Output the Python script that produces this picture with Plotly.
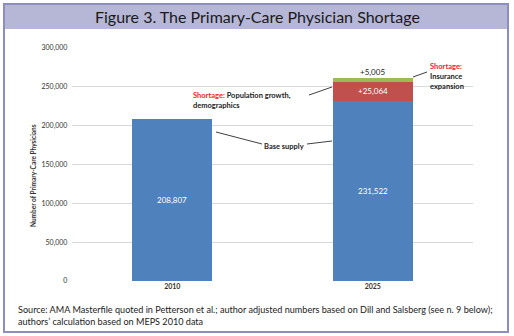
import plotly.graph_objects as go

years = ["2010", "2025"]
base_supply = [208807, 231522]
pop_growth = [0, 25064]
insurance = [0, 5005]
y_ticks = [0, 50000, 100000, 150000, 200000, 250000, 300000]

BLUE = "#4F81BD"
RED = "#C0504D"
GREEN = "#9BBB59"
FONT = "Lato, Open Sans, sans-serif"

W, H = 514, 336
PL, PR, PT, PB = 72, 473, 48, 281

xpos = list(range(len(years)))


def px(x):
    return (x - PL) / (PR - PL)


def py(y):
    return (PB - y) / (PB - PT)


fig = go.Figure()
fig.add_trace(go.Bar(x=xpos, y=base_supply, marker=dict(color=BLUE, line=dict(width=0)),
                     name="Base supply", width=0.4))
fig.add_trace(go.Bar(x=xpos, y=pop_growth, marker=dict(color=RED, line=dict(width=0)),
                     name="Population growth", width=0.4))
fig.add_trace(go.Bar(x=xpos, y=insurance, marker=dict(color=GREEN, line=dict(width=0)),
                     name="Insurance expansion", width=0.4))

annotations = []
for i in xpos:
    annotations.append(dict(x=i, y=base_supply[i] / 2, xref="x", yref="y", text=f"{base_supply[i]:,}",
                            showarrow=False, font=dict(size=8, color="white", family=FONT)))
    if pop_growth[i]:
        annotations.append(dict(x=i, y=base_supply[i] + pop_growth[i] / 2, xref="x", yref="y",
                                text=f"+{pop_growth[i]:,}", showarrow=False,
                                font=dict(size=8, color="white", family=FONT)))
    if insurance[i]:
        annotations.append(dict(x=i, y=base_supply[i] + pop_growth[i] + insurance[i], xref="x", yref="y",
                                text=f"+{insurance[i]:,}", showarrow=False, yanchor="bottom", yshift=-1,
                                font=dict(size=8, color="#222", family=FONT)))

annotations += [
    # title
    dict(x=px(257), y=py(17), xref="paper", yref="paper", text="Figure 3. The Primary-Care Physician Shortage",
         showarrow=False, xanchor="center", yanchor="middle", font=dict(size=16, color="#1a1a1a", family=FONT)),
    # y-axis title
    dict(x=px(33), y=py(176), xref="paper", yref="paper", text="<b>Number of Primary-Care Physicians</b>",
         showarrow=False, textangle=-90, xanchor="center", yanchor="middle",
         font=dict(size=6.5, color="#333", family=FONT)),
    # source
    dict(x=px(16), y=py(302), xref="paper", yref="paper", align="left",
         text="Source: AMA Masterfile quoted in Petterson et al.; author adjusted numbers based on Dill and Salsberg (see n. 9 below);<br>authors\u2019 calculation based on MEPS 2010 data",
         showarrow=False, xanchor="left", yanchor="top", font=dict(size=9.1, color="#222", family=FONT)),
    # callouts
    dict(x=px(191), y=py(100), xref="paper", yref="paper", align="left",
         text="<b><span style='color:#FF2020'>Shortage:</span> Population growth,<br>demographics</b>",
         showarrow=False, xanchor="left", yanchor="middle", font=dict(size=7.5, color="#222", family=FONT)),
    dict(x=px(284), y=py(146), xref="paper", yref="paper", text="<b>Base supply</b>",
         showarrow=False, xanchor="center", yanchor="middle", font=dict(size=7.5, color="#222", family=FONT)),
    dict(x=px(428), y=py(77), xref="paper", yref="paper", align="left",
         text="<b><span style='color:#FF2020'>Shortage:</span><br>Insurance<br>expansion</b>",
         showarrow=False, xanchor="left", yanchor="middle", font=dict(size=7.5, color="#222", family=FONT)),
]

LINE = dict(color="#404040", width=1)
shapes = [
    # frame
    dict(type="rect", xref="paper", yref="paper", x0=px(4), x1=px(508), y0=py(4), y1=py(29),
         fillcolor="#B6B6D6", line=dict(width=0), layer="below"),
    dict(type="rect", xref="paper", yref="paper", x0=px(4), x1=px(508), y0=py(4), y1=py(332),
         fillcolor="rgba(0,0,0,0)", line=dict(color="#8E8EBE", width=2)),
    # leader lines
    dict(type="line", xref="paper", yref="paper", x0=px(216), y0=py(132), x1=px(262), y1=py(144), line=LINE),
    dict(type="line", xref="paper", yref="paper", x0=px(307), y0=py(144), x1=px(332), y1=py(141), line=LINE),
    dict(type="line", xref="paper", yref="paper", x0=px(309), y0=py(95), x1=px(332), y1=py(87), line=LINE),
    dict(type="line", xref="paper", yref="paper", x0=px(413), y0=py(77), x1=px(427), y1=py(72), line=LINE),
]

fig.update_layout(
    width=W, height=H,
    margin=dict(l=PL, r=W - PR, t=PT, b=H - PB, pad=0),
    barmode="stack",
    showlegend=False,
    paper_bgcolor="white", plot_bgcolor="white",
    font=dict(family=FONT),
    annotations=annotations,
    shapes=shapes,
    xaxis=dict(range=[-0.5, len(years) - 0.5], tickvals=xpos, ticktext=[f"<b>{y}</b>" for y in years],
               showgrid=False, showline=False, ticks="", zeroline=False,
               tickfont=dict(size=7, color="#333", family=FONT)),
    yaxis=dict(range=[0, 300000], tickvals=y_ticks, ticktext=[f"{v:,}  " for v in y_ticks],
               showgrid=True, gridcolor="#D9D9D9", gridwidth=1, zeroline=False,
               showline=False, ticks="",
               tickfont=dict(size=7, color="#333", family=FONT)),
)

fig.write_html("out.html")
